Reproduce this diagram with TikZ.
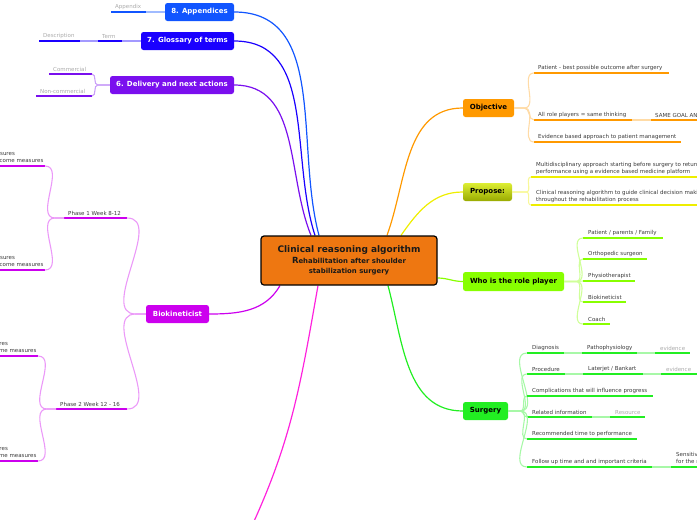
\documentclass[tikz,border=0pt]{standalone}
\usepackage{fontspec}
\setmainfont{DejaVu Sans}
\usepackage{tikz}
\usetikzlibrary{positioning,backgrounds}
\definecolor{central}{HTML}{EE7711}
\definecolor{appblue}{HTML}{1155FF}
\definecolor{glossblue}{HTML}{1A00FF}
\definecolor{delpurple}{HTML}{7A0FEE}
\definecolor{biopurple}{HTML}{CC00EE}
\definecolor{hotpink}{HTML}{FF22DD}
\definecolor{objorange}{HTML}{FF9900}
\definecolor{propyellow}{HTML}{EEEE00}
\definecolor{proptop}{HTML}{DDEE33}
\definecolor{propbot}{HTML}{99AA00}
\definecolor{whogreen}{HTML}{88FF00}
\definecolor{surggreen}{HTML}{22EE22}
\definecolor{leafgray}{HTML}{3A3A3A}
\definecolor{notegray}{HTML}{AAAAAA}

\begin{document}
\begin{tikzpicture}[x=1pt, y=-1pt,
  topic/.style={rectangle, rounded corners=2.5pt, minimum height=18pt, inner sep=0pt,
    font=\fontsize{7}{8.5}\selectfont\bfseries},
  leaftext/.style={anchor=south west, inner sep=0pt, align=left, text=leafgray,
    font=\fontsize{5.5}{7}\selectfont},
  notetext/.style={leaftext, text=notegray},
  leaf/.style={line width=2.2pt},
  twig/.style={line width=1.1pt},
  branch/.style={line width=1.2pt}]
  \useasboundingbox (0,0) rectangle (697,520);
  \clip (0,0) rectangle (697,520);

  % centre and main topics
  \node[draw=black, line width=1.2pt, fill=central, rounded corners=3pt,
    minimum width=176pt, minimum height=49pt, align=center, text=black!90,
    font=\fontsize{6.9}{10}\selectfont\bfseries] (center) at (349,260.5)
    {{\fontsize{9}{11}\selectfont Clinical reasoning algorithm}\\[0.5pt]
     {\fontsize{8.5}{9}\selectfont R}ehabilitation after shoulder\\
     stabilization surgery};
  \node[topic, fill=appblue, text=white, minimum width=69pt] (app) at (199.5,12) {8. Appendices};
  \node[topic, fill=glossblue, text=white, minimum width=93pt] (gloss) at (187.5,41) {7. Glossary of terms};
  \node[topic, fill=delpurple, text=white, minimum width=124pt] (deliv) at (172,85) {6. Delivery and next actions};
  \node[topic, fill=biopurple, text=white, minimum width=63pt] (bio) at (177.5,314) {Biokineticist};
  \node[topic, fill=objorange, minimum width=51pt] (obj) at (488.5,108) {Objective};
  \node[topic, top color=proptop, bottom color=propbot, minimum width=49pt] (prop) at (487.5,192) {Propose:};
  \node[topic, fill=whogreen, minimum width=101pt, minimum height=19pt] (who) at (513.5,281.5) {Who is the role player};
  \node[topic, fill=surggreen, minimum width=45pt] (surg) at (485.5,411) {Surgery};
  \coordinate (pinkend) at (250,530);

  \begin{scope}[on background layer]
    \draw[branch, appblue] (app.east) to[out=0, in=105] ([xshift=-30]center.north);
    \draw[branch, glossblue] (gloss.east) to[out=0, in=108] ([xshift=-34]center.north);
    \draw[branch, delpurple] (deliv.east) to[out=0, in=112] ([xshift=-38]center.north);
    \draw[branch, objorange] ([xshift=38]center.north) to[out=70, in=180] (obj.west);
    \draw[branch, propyellow] ([xshift=52]center.north) to[out=55, in=180] (prop.west);
    \draw[branch, whogreen] ([yshift=-17.5]center.east) to[out=0, in=180] (who.west);
    \draw[branch, surggreen] ([xshift=39]center.south) to[out=-75, in=180] (surg.west);
    \draw[branch, biopurple] (bio.east) to[out=0, in=-120] ([xshift=-69]center.south);
    \draw[branch, hotpink] ([xshift=-31]center.south) to[out=-100, in=65] (pinkend);
  \end{scope}

  % Objective
  \foreach \n/\y/\xr/\t in {pat/73/669/{Patient - best possible outcome after surgery},
      same/120/632/{All role players = same thinking},
      evid/142/681/{Evidence based approach to patient management}} {
    \coordinate (obj-\n-l) at (534,\y);
    \coordinate (obj-\n-r) at (\xr,\y);
    \draw[leaf, objorange] (obj-\n-l) -- (obj-\n-r);
    \node[leaftext] (obj-\n) at ([shift={(4pt,2.5pt)}]obj-\n-l) {\t};
    \draw[twig, objorange!35] (obj.east) -- ++(10,0) to[out=0, in=180] (obj-\n-l);
  }
  \coordinate (obj-goal-l) at (651,120);
  \coordinate (obj-goal-r) at (730,120);
  \draw[leaf, objorange] (obj-goal-l) -- (obj-goal-r);
  \node[leaftext] (obj-goal) at ([shift={(4pt,2.5pt)}]obj-goal-l) {SAME GOAL AND VISION};
  \draw[twig, objorange!35] (obj-same-r) -- (obj-goal-l);

  % Propose
  \foreach \n/\y/\t in {multi/177/{Multidisciplinary approach starting before surgery to return to sport\\performance using a evidence based medicine platform},
      algo/205/{Clinical reasoning algorithm to guide clinical decision making\\throughout the rehabilitation process}} {
    \coordinate (prop-\n-l) at (531,\y);
    \coordinate (prop-\n-r) at (760,\y);
    \draw[leaf, propyellow] (prop-\n-l) -- (prop-\n-r);
    \node[leaftext] (prop-\n) at ([shift={(5pt,2.5pt)}]prop-\n-l) {\t};
    \draw[twig, propyellow!40] (prop.east) -- ++(14,0) to[out=0, in=180] (prop-\n-l);
  }

  % Who is the role player
  \foreach \n/\y/\xr/\t in {pat/238/663/{Patient / parents / Family},
      orth/259/647/{Orthopedic surgeon}, phys/281/635/{Physiotherapist},
      bio/302/626/{Biokineticist}, coach/324/610/{Coach}} {
    \coordinate (who-\n-l) at (583,\y);
    \coordinate (who-\n-r) at (\xr,\y);
    \draw[leaf, whogreen] (who-\n-l) -- (who-\n-r);
    \node[leaftext] (who-\n) at ([shift={(5pt,2.5pt)}]who-\n-l) {\t};
    \draw[twig, whogreen!40] (who.east) -- ++(12,0) to[out=0, in=180] (who-\n-l);
  }

  % Surgery
  \foreach \n/\y/\xr/\t in {diag/353/564/{Diagnosis}, proc/374/565/{Procedure},
      comp/396/653/{Complications that will influence progress},
      rel/417/592/{Related information}, rec/439/637/{Recommended time to performance},
      fol/467/652/{Follow up time and and important criteria}} {
    \coordinate (surg-\n-l) at (527,\y);
    \coordinate (surg-\n-r) at (\xr,\y);
    \draw[leaf, surggreen] (surg-\n-l) -- (surg-\n-r);
    \node[leaftext] (surg-\n) at ([shift={(5pt,2.5pt)}]surg-\n-l) {\t};
    \draw[twig, surggreen!40] (surg.east) -- ++(12,0) to[out=0, in=180] (surg-\n-l);
  }
  % surgery chains
  \foreach \n/\p/\xl/\xr/\y/\s/\t in {path/diag/582/637/353/leaftext/{Pathophysiology},
      lat/proc/583/643/374/leaftext/{Laterjet / Bankart},
      res/rel/610/645/417/notetext/{Resource},
      sens/fol/671/740/467/leaftext/{Sensitive measures\\for the return to play}} {
    \coordinate (surg-\n-l) at (\xl,\y);
    \coordinate (surg-\n-r) at (\xr,\y);
    \draw[leaf, surggreen] (surg-\n-l) -- (surg-\n-r);
    \node[\s] (surg-\n) at ([shift={(5pt,2.5pt)}]surg-\n-l) {\t};
    \draw[twig, surggreen!40] (surg-\p-r) -- (surg-\n-l);
  }
  \foreach \n/\p/\xl/\xr/\y in {eva/path/655/690/353, evb/lat/661/697/374} {
    \coordinate (surg-\n-l) at (\xl,\y);
    \coordinate (surg-\n-r) at (\xr,\y);
    \draw[leaf, surggreen] (surg-\n-l) -- (surg-\n-r);
    \node[notetext] (surg-\n) at ([shift={(5pt,2.5pt)}]surg-\n-l) {evidence};
    \draw[twig, surggreen!40] (surg-\p-r) -- (surg-\n-l);
  }

  % left side: appendices, glossary, delivery
  \coordinate (app-x-l) at (111,12); \coordinate (app-x-r) at (146,12);
  \draw[leaf, appblue] (app-x-l) -- (app-x-r);
  \node[notetext] (app-x) at ([shift={(4pt,2.5pt)}]app-x-l) {Appendix};
  \draw[twig, appblue!40] (app.west) -- (app-x-r);

  \coordinate (term-l) at (98,41); \coordinate (term-r) at (122,41);
  \coordinate (desc-l) at (39,41); \coordinate (desc-r) at (80,41);
  \draw[leaf, glossblue] (term-l) -- (term-r);
  \draw[leaf, glossblue] (desc-l) -- (desc-r);
  \node[notetext] (term) at ([shift={(4pt,2.5pt)}]term-l) {Term};
  \node[notetext] (desc) at ([shift={(4pt,2.5pt)}]desc-l) {Description};
  \draw[twig, glossblue!40] (gloss.west) -- (term-r);
  \draw[twig, glossblue!40] (term-l) -- (desc-r);

  \foreach \n/\xl/\y/\t in {com/49/74/{Commercial}, noncom/36/96/{Non-commercial}} {
    \coordinate (deliv-\n-l) at (\xl,\y);
    \coordinate (deliv-\n-r) at (92,\y);
    \draw[leaf, delpurple] (deliv-\n-l) -- (deliv-\n-r);
    \node[notetext] (deliv-\n) at ([shift={(4pt,2.5pt)}]deliv-\n-l) {\t};
    \draw[twig, delpurple!40] (deliv.west) -- ++(-12,0) to[out=180, in=0] (deliv-\n-r);
  }

  % Biokineticist phases
  \foreach \n/\xl/\y/\t in {ph1/64/218/{Phase 1 Week 8-12}, ph2/56/409/{Phase 2 Week 12 - 16}} {
    \coordinate (\n-l) at (\xl,\y);
    \coordinate (\n-r) at (127,\y);
    \draw[leaf, biopurple] (\n-l) -- (\n-r);
    \node[leaftext] (\n) at ([shift={(4pt,2.5pt)}]\n-l) {\t};
    \draw[twig, biopurple!40] (bio.west) -- ++(-10,0) to[out=180, in=0] (\n-r);
  }
  \foreach \n/\p/\xr/\y in {o1a/ph1/45/166, o1b/ph1/45/270, o2a/ph2/38/356, o2b/ph2/38/461} {
    \coordinate (\n-l) at (\xr-89,\y);
    \coordinate (\n-r) at (\xr,\y);
    \draw[leaf, biopurple] (\n-l) -- (\n-r);
    \node[leaftext] (\n) at ([shift={(4pt,2.5pt)}]\n-l) {Objective measures\\Subjective outcome measures};
    \draw[twig, biopurple!40] (\p-l) -- ++(-9,0) to[out=180, in=0] (\n-r);
  }
\end{tikzpicture}
\end{document}
